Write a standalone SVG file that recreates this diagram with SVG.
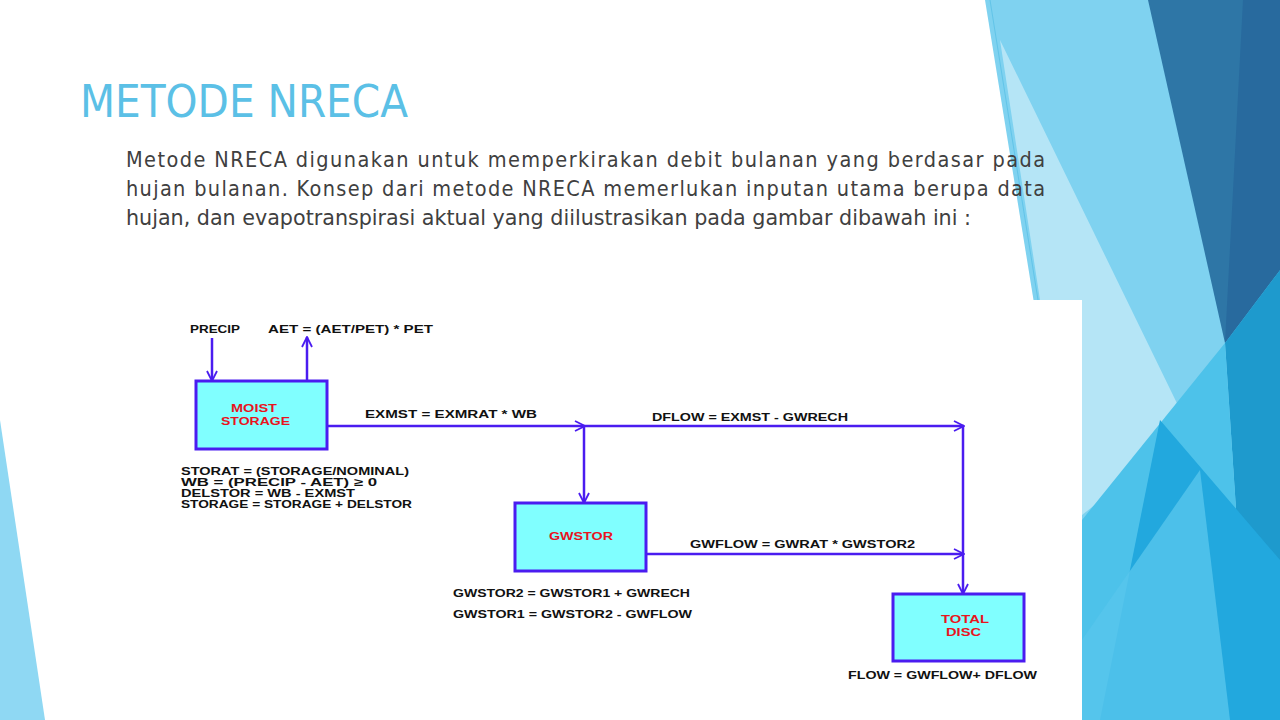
<svg xmlns="http://www.w3.org/2000/svg" width="1280" height="720" viewBox="0 0 1280 720">
<defs>
<style>
.lbl{font-family:"Liberation Sans",Arial,sans-serif;font-weight:bold;font-size:11px;fill:#111}
.red{font-family:"Liberation Sans",Arial,sans-serif;font-weight:bold;font-size:11.5px;fill:#e8141e}
.box{fill:#80ffff;stroke:#4a1cf0;stroke-width:3}
.ln{stroke:#4a1cf0;stroke-width:2.5;fill:none}
.body{font-family:"DejaVu Sans Condensed","DejaVu Sans",sans-serif;font-size:21.5px;fill:#404040}
</style>
<marker id="ah" viewBox="0 0 12 12" refX="11" refY="6" markerWidth="12" markerHeight="12" markerUnits="userSpaceOnUse" orient="auto">
<polyline points="1,1 11,6 1,11" fill="none" stroke="#4a1cf0" stroke-width="1.8"/>
</marker>
</defs>
<rect width="1280" height="720" fill="#fff"/>
<g id="background">
<polygon points="985,0 1280,0 1280,720 1130,720 1082,600" fill="#7fd2f0"/>
<polygon points="1000,40 1190,430 1082,515 1082,300 1040,300" fill="#b5e5f6"/>
<polygon points="1148,0 1280,0 1280,270 1225,343" fill="#2e76a6"/>
<polygon points="1243,0 1280,0 1280,270 1225,343" fill="#286a9e"/>
<polygon points="1225,343 1280,270 1280,720 1250,720" fill="#1e9acd"/>
<polygon points="1082,520 1225,343 1250,720 1082,720" fill="#4dc2ea"/>
<polygon points="1160,420 1280,560 1280,720 1100,720" fill="#22a8de"/>
<polygon points="1082,640 1200,470 1230,720 1082,720" fill="#58c6ec" opacity="0.8"/>
<polygon points="0,420 45,720 0,720" fill="#8fd8f3"/>
<line x1="990" y1="0" x2="1038" y2="300" stroke="#5bc0e6" stroke-width="0.8"/>
</g>
<rect x="150" y="300" width="932" height="397" fill="#fff"/>
<text x="80" y="117" font-family="DejaVu Sans Condensed,DejaVu Sans,sans-serif" font-size="44" fill="#5bc0e6" textLength="328" lengthAdjust="spacingAndGlyphs">METODE NRECA</text>
<text class="body" x="126" y="167" textLength="919" lengthAdjust="spacing">Metode NRECA digunakan untuk memperkirakan debit bulanan yang berdasar pada</text>
<text class="body" x="126" y="196" textLength="919" lengthAdjust="spacing">hujan bulanan. Konsep dari metode NRECA memerlukan inputan utama berupa data</text>
<text class="body" x="126" y="225" textLength="845" lengthAdjust="spacingAndGlyphs">hujan, dan evapotranspirasi aktual yang diilustrasikan pada gambar dibawah ini :</text>
<g id="connectors">
<line class="ln" x1="212" y1="338" x2="212" y2="381" marker-end="url(#ah)"/>
<line class="ln" x1="307" y1="381" x2="307" y2="337" marker-end="url(#ah)"/>
<line class="ln" x1="327" y1="426" x2="585" y2="426" marker-end="url(#ah)"/>
<line class="ln" x1="585" y1="426" x2="964" y2="426" marker-end="url(#ah)"/>
<line class="ln" x1="584" y1="426" x2="584" y2="503" marker-end="url(#ah)"/>
<line class="ln" x1="963" y1="426" x2="963" y2="594" marker-end="url(#ah)"/>
<line class="ln" x1="646" y1="554" x2="964" y2="554" marker-end="url(#ah)"/>
</g>
<g id="moist">
<rect class="box" x="196" y="381" width="131" height="68"/>
<text class="red" x="231" y="412" textLength="46" lengthAdjust="spacingAndGlyphs">MOIST</text>
<text class="red" x="221" y="425" textLength="69" lengthAdjust="spacingAndGlyphs">STORAGE</text>
</g>
<g id="gwstor">
<rect class="box" x="515" y="503" width="131" height="68"/>
<text class="red" x="549" y="540" textLength="64" lengthAdjust="spacingAndGlyphs">GWSTOR</text>
</g>
<g id="total">
<rect class="box" x="893" y="594" width="131" height="67"/>
<text class="red" x="941" y="623" textLength="48" lengthAdjust="spacingAndGlyphs">TOTAL</text>
<text class="red" x="946" y="636" textLength="35" lengthAdjust="spacingAndGlyphs">DISC</text>
</g>
<g id="labels">
<text class="lbl" x="190" y="333" textLength="50" lengthAdjust="spacingAndGlyphs">PRECIP</text>
<text class="lbl" x="268" y="333" textLength="165" lengthAdjust="spacingAndGlyphs">AET = (AET/PET) * PET</text>
<text class="lbl" x="365" y="418" textLength="172" lengthAdjust="spacingAndGlyphs">EXMST = EXMRAT * WB</text>
<text class="lbl" x="652" y="421" textLength="196" lengthAdjust="spacingAndGlyphs">DFLOW = EXMST - GWRECH</text>
<text class="lbl" x="181" y="475" textLength="228" lengthAdjust="spacingAndGlyphs">STORAT = (STORAGE/NOMINAL)</text>
<text class="lbl" x="181" y="486" textLength="196" lengthAdjust="spacingAndGlyphs">WB = (PRECIP - AET) ≥   0</text>
<text class="lbl" x="181" y="497" textLength="174" lengthAdjust="spacingAndGlyphs">DELSTOR = WB - EXMST</text>
<text class="lbl" x="181" y="508" textLength="231" lengthAdjust="spacingAndGlyphs">STORAGE = STORAGE + DELSTOR</text>
<text class="lbl" x="690" y="548" textLength="225" lengthAdjust="spacingAndGlyphs">GWFLOW = GWRAT * GWSTOR2</text>
<text class="lbl" x="453" y="597" textLength="237" lengthAdjust="spacingAndGlyphs">GWSTOR2 = GWSTOR1 + GWRECH</text>
<text class="lbl" x="453" y="618" textLength="239" lengthAdjust="spacingAndGlyphs">GWSTOR1 = GWSTOR2 - GWFLOW</text>
<text class="lbl" x="848" y="679" textLength="189" lengthAdjust="spacingAndGlyphs">FLOW = GWFLOW+ DFLOW</text>
</g>
</svg>
